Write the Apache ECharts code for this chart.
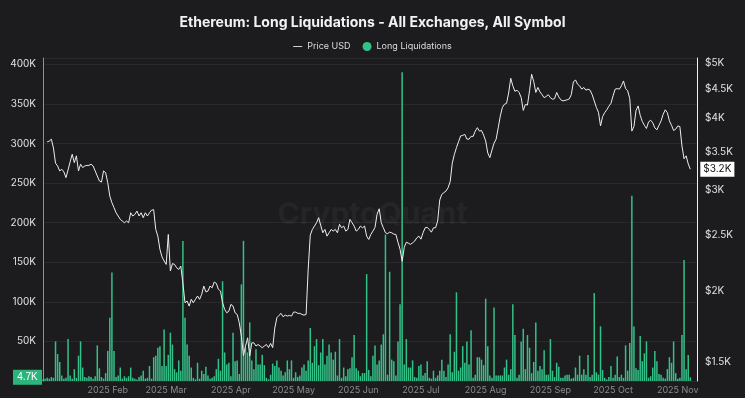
<!DOCTYPE html>
<html>
<head>
<meta charset="utf-8">
<script src="https://cdn.jsdelivr.net/npm/echarts@6/dist/echarts.min.js"></script>
<style>
html,body{margin:0;padding:0;background:#1c1c1e;}
#chart{width:745px;height:398px;}
</style>
</head>
<body>
<div id="chart"></div>
<script>
// Daily long liquidations (thousands USD), 2025, one array per month
const liqJan = [2,3,4,3,5,4,50,34,24,7,3,4,53,7,3,15,4,32,50,17,5,4,6,5,3,6,45,16,5,3,10];
const liqFeb = [38,80,137,38,5,7,17,3,6,4,6,17,4,3,2,5,7,13,3,4,19,3,30,32,42,44,19,65];
const liqMar = [19,33,61,46,15,11,26,13,177,80,46,32,17,4,2,23,3,13,9,18,7,3,4,6,15,28,13,126,36,21,23];
const liqApr = [6,61,25,26,9,122,177,42,36,74,26,15,40,21,21,33,20,4,2,8,22,19,26,17,13,7,11,26,15,26];
const liqMay = [4,11,5,7,17,21,13,26,67,23,44,53,20,36,53,21,32,46,36,27,37,7,53,4,17,6,15,16,30,58,16];
const liqJun = [13,6,10,10,135,14,6,32,45,21,26,46,59,185,8,138,27,25,7,50,97,390,21,53,17,17,26,5,4,19];
const liqJul = [21,7,10,25,4,3,13,4,7,13,27,13,5,21,59,11,37,112,13,17,44,23,50,21,64,4,8,30,30,27,20];
const liqAug = [104,44,7,4,93,7,7,7,7,17,27,8,15,97,58,4,8,50,66,15,58,42,10,24,74,13,19,15,39,8,8];
const liqSep = [53,13,5,23,18,4,4,7,8,8,3,4,17,8,32,8,15,8,33,5,8,111,11,8,69,14,4,2,5,19];
const liqOct = [4,8,31,5,8,4,45,13,48,234,69,16,14,57,25,35,50,4,6,17,38,25,9,8,4,3,15,30,23,50,10];
const liqNov = [3,4,58,153,15,33,4.7];

// Daily ETH price (USD), one array per month
const priceJan = [null,null,3640,3650,3678,3550,3340,3302,3237,3259,3225,3151,3250,3360,3462,3347,3440,3237,3326,3281,3302,3310,3310,3326,3302,3237,3172,3109,3095,3237,3215];
const priceFeb = [3088,2925,2849,2793,2736,2700,2664,2646,2628,2646,2628,2736,2700,2718,2755,2700,2736,2682,2736,2700,2736,2765,2770,2558,2490,2361,2290,2253];
const priceMar = [2222,2507,2164,2230,2222,2193,2178,2207,2060,1904,1918,1879,1931,1904,1931,1957,1931,1970,2037,1990,1996,2037,2023,2070,2059,2010,1996,1904,1854,1829,1841];
const priceApr = [1892,1879,1829,1817,1757,1665,1540,1600,1654,1537,1621,1621,1600,1610,1600,1589,1600,1610,1590,1617,1590,1720,1793,1810,1825,1800,1812,1805,1810,1805];
const priceMay = [1834,1834,1825,1825,1817,1812,1817,2180,2500,2558,2593,2628,2682,2600,2524,2558,2490,2524,2558,2541,2558,2524,2611,2575,2593,2541,2558,2664,2628,2593,2541];
const priceJun = [2558,2593,2575,2593,2490,2457,2507,2541,2580,2720,2780,2628,2575,2524,2515,2530,2524,2510,2507,2430,2361,2250,2380,2430,2420,2409,2424,2441,2473,2490];
const priceJul = [2460,2524,2575,2580,2558,2530,2575,2575,2646,2880,2946,2966,2986,3026,3100,3340,3460,3555,3640,3727,3735,3750,3680,3678,3720,3720,3800,3853,3800,3810,3740];
const priceAug = [3653,3480,3415,3520,3620,3678,3850,4039,4180,4234,4250,4430,4700,4560,4460,4480,4440,4350,4130,4230,4220,4470,4778,4640,4440,4530,4450,4400,4347,4370,4400];
const priceSep = [4347,4320,4330,4440,4360,4310,4290,4300,4310,4325,4400,4630,4670,4590,4558,4500,4530,4480,4500,4480,4400,4290,4180,4100,3880,4030,4094,4140,4200,4250];
const priceOct = [4380,4498,4510,4498,4560,4650,4510,4470,4330,3800,3870,4130,4205,4050,3950,3890,3840,3943,3970,3930,3850,3820,3890,3960,4067,4140,4094,3960,3890,3810,3830];
const priceNov = [3880,3870,3580,3400,3440,3330,3260];

// Axis ticks
const leftTicks = [50000,100000,150000,200000,250000,300000,350000,400000];
const rightTicks = [1500,2000,2500,3000,3500,4000,4500,5000];
const monthTicks = ['2025-02-01','2025-03-01','2025-04-01','2025-05-01','2025-06-01','2025-07-01','2025-08-01','2025-09-01','2025-10-01','2025-11-01'];
const monthNames = ['Jan','Feb','Mar','Apr','May','Jun','Jul','Aug','Sep','Oct','Nov','Dec'];

const DAY = 86400000;
const start = Date.UTC(2025,0,1);
const liq = [].concat(liqJan,liqFeb,liqMar,liqApr,liqMay,liqJun,liqJul,liqAug,liqSep,liqOct,liqNov);
const price = [].concat(priceJan,priceFeb,priceMar,priceApr,priceMay,priceJun,priceJul,priceAug,priceSep,priceOct,priceNov);
const liqData = liq.map((v,i)=>[start+i*DAY, v*1000]);
const priceData = price.map((v,i)=>[start+i*DAY, v]);
const monthVals = monthTicks.map(s=>Date.parse(s+'T00:00:00Z'));

const GREEN = '#33c188';
const chart = echarts.init(document.getElementById('chart'));
chart.setOption({
  backgroundColor:'#1c1c1e',
  animation:false,
  textStyle:{fontFamily:'Inter, "Noto Sans", sans-serif'},
  title:{
    text:'Ethereum: Long Liquidations - All Exchanges, All Symbol',
    left:'center', top:11,
    textStyle:{color:'#f2f2f2', fontSize:14, fontWeight:'bold', fontFamily:'Inter, sans-serif'}
  },
  legend:{
    top:37, left:'center', itemGap:12, itemWidth:9, itemHeight:9,
    textStyle:{color:'#dcdcdc', fontSize:9},
    data:[
      {name:'Price USD', icon:'path://M0,4.5 L10,4.5 L10,5.5 L0,5.5 Z', itemStyle:{color:'#e6e6e6'}},
      {name:'Long Liquidations', icon:'circle', itemStyle:{color:GREEN}}
    ]
  },
  grid:{left:43, right:48, top:58, bottom:17},
  xAxis:{
    type:'value',
    min:start, max:start+313.2*DAY,
    axisLine:{show:false}, axisTick:{show:false}, splitLine:{show:false},
    axisLabel:{
      customValues:monthVals,
      color:'#8c8c8c', fontSize:9, margin:5,
      formatter:v=>{const d=new Date(v); return d.getUTCFullYear()+' '+monthNames[d.getUTCMonth()];}
    }
  },
  yAxis:[
    {
      type:'value', min:0, max:408000, interval:50000, position:'left',
      axisLine:{show:true, lineStyle:{color:GREEN, width:1}},
      axisTick:{show:false},
      splitLine:{show:true, lineStyle:{color:'#29292c', width:1}},
      axisLabel:{customValues:leftTicks, color:'#e0e0e0', fontSize:10, margin:7,
        formatter:v=>(v/1000)+'K'}
    },
    {
      type:'log', logBase:10, min:1390, max:5100, position:'right',
      axisLine:{show:true, lineStyle:{color:'#f0f0f0', width:1}},
      axisTick:{show:false},
      splitLine:{show:false},
      axisLabel:{customValues:rightTicks, color:'#e0e0e0', fontSize:10, margin:8,
        formatter:v=>'$'+(v/1000)+'K'}
    }
  ],
  series:[
    {
      name:'Long Liquidations', type:'bar', yAxisIndex:0,
      data:liqData, barWidth:'72%',
      itemStyle:{color:GREEN}, z:2
    },
    {
      name:'Price USD', type:'line', yAxisIndex:1,
      data:priceData, showSymbol:false, symbol:'none',
      lineStyle:{color:'#ededed', width:1},
      itemStyle:{color:'#ededed'},
      z:3,
      endLabel:{
        show:true, distance:10,
        formatter:p=>'$'+(Math.floor(p.value[1]/100)/10).toFixed(1)+'K',
        backgroundColor:'#ffffff', color:'#111', fontSize:10, padding:[3,3,2,3]
      }
    }
  ]
});

// Last-value badge on the left axis, placed through the axis scale
const lastLiq = liqData[liqData.length-1][1];
const yPix = chart.convertToPixel({yAxisIndex:0}, lastLiq);
chart.setOption({
  graphic:[
    {
      type:'text', left:'center', top:200, z:0, silent:true,
      style:{text:'CryptoQuant', fill:'rgba(255,255,255,0.045)', fontSize:30, fontWeight:'bold', fontFamily:'Inter, sans-serif'}
    },
    {
      type:'rect', shape:{x:13, y:yPix-7.5, width:29, height:15},
      style:{fill:'#2db47c'}, z:10
    },
    {
      type:'text', x:27.5, y:yPix, z:11,
      style:{text:(lastLiq/1000)+'K', fill:'#ffffff', fontSize:10, align:'center', verticalAlign:'middle'}
    }
  ]
});
</script>
</body>
</html>
